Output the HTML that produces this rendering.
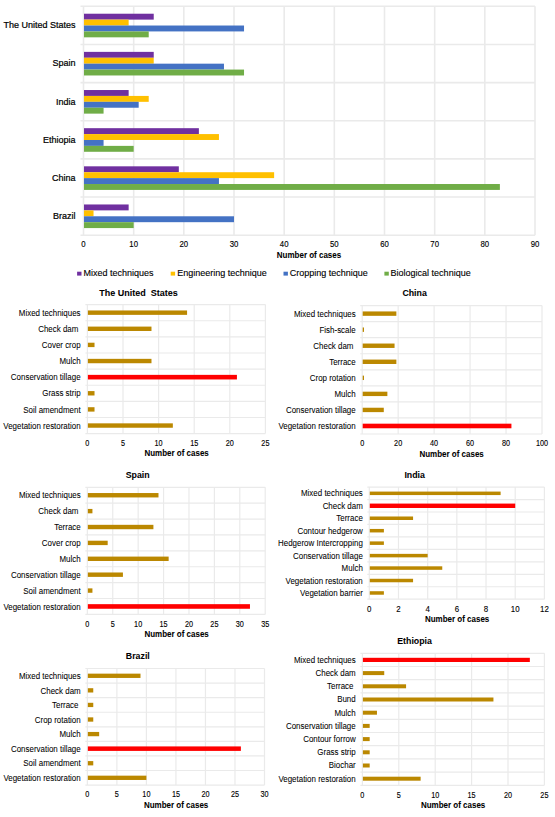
<!DOCTYPE html>
<html><head><meta charset="utf-8"><style>
html,body{margin:0;padding:0;background:#fff;}
svg{display:block;font-family:"Liberation Sans", sans-serif;}
</style></head><body>
<svg width="555" height="817" viewBox="0 0 555 817">
<rect x="0" y="0" width="555" height="817" fill="#fff"/>
<line x1="83.50" y1="6.30" x2="83.50" y2="235.20" stroke="#eaeaea" stroke-width="1.6"/>
<line x1="133.67" y1="6.30" x2="133.67" y2="235.20" stroke="#eaeaea" stroke-width="1.6"/>
<line x1="183.83" y1="6.30" x2="183.83" y2="235.20" stroke="#eaeaea" stroke-width="1.6"/>
<line x1="234.00" y1="6.30" x2="234.00" y2="235.20" stroke="#eaeaea" stroke-width="1.6"/>
<line x1="284.17" y1="6.30" x2="284.17" y2="235.20" stroke="#eaeaea" stroke-width="1.6"/>
<line x1="334.33" y1="6.30" x2="334.33" y2="235.20" stroke="#eaeaea" stroke-width="1.6"/>
<line x1="384.50" y1="6.30" x2="384.50" y2="235.20" stroke="#eaeaea" stroke-width="1.6"/>
<line x1="434.67" y1="6.30" x2="434.67" y2="235.20" stroke="#eaeaea" stroke-width="1.6"/>
<line x1="484.83" y1="6.30" x2="484.83" y2="235.20" stroke="#eaeaea" stroke-width="1.6"/>
<line x1="535.00" y1="6.30" x2="535.00" y2="235.20" stroke="#eaeaea" stroke-width="1.6"/>
<line x1="80.50" y1="6.30" x2="535.00" y2="6.30" stroke="#eaeaea" stroke-width="1.6"/>
<line x1="80.50" y1="44.45" x2="535.00" y2="44.45" stroke="#eaeaea" stroke-width="1.6"/>
<line x1="80.50" y1="82.60" x2="535.00" y2="82.60" stroke="#eaeaea" stroke-width="1.6"/>
<line x1="80.50" y1="120.75" x2="535.00" y2="120.75" stroke="#eaeaea" stroke-width="1.6"/>
<line x1="80.50" y1="158.90" x2="535.00" y2="158.90" stroke="#eaeaea" stroke-width="1.6"/>
<line x1="80.50" y1="197.05" x2="535.00" y2="197.05" stroke="#eaeaea" stroke-width="1.6"/>
<line x1="80.50" y1="235.20" x2="535.00" y2="235.20" stroke="#eaeaea" stroke-width="1.6"/>
<rect x="84.00" y="13.72" width="69.73" height="5.90" fill="#7030a0"/>
<rect x="84.00" y="19.62" width="44.65" height="5.90" fill="#ffc000"/>
<rect x="84.00" y="25.52" width="160.03" height="5.90" fill="#4472c4"/>
<rect x="84.00" y="31.43" width="64.72" height="5.90" fill="#70ad47"/>
<text x="75.60" y="28.26" font-size="9" text-anchor="end" fill="#000" stroke="#000" stroke-width="0.22" xml:space="preserve">The United States</text>
<rect x="84.00" y="51.87" width="69.73" height="5.90" fill="#7030a0"/>
<rect x="84.00" y="57.77" width="69.73" height="5.90" fill="#ffc000"/>
<rect x="84.00" y="63.67" width="139.97" height="5.90" fill="#4472c4"/>
<rect x="84.00" y="69.57" width="160.03" height="5.90" fill="#70ad47"/>
<text x="75.60" y="66.41" font-size="9" text-anchor="end" fill="#000" stroke="#000" stroke-width="0.22" xml:space="preserve">Spain</text>
<rect x="84.00" y="90.03" width="44.65" height="5.90" fill="#7030a0"/>
<rect x="84.00" y="95.93" width="64.72" height="5.90" fill="#ffc000"/>
<rect x="84.00" y="101.83" width="54.68" height="5.90" fill="#4472c4"/>
<rect x="84.00" y="107.73" width="19.57" height="5.90" fill="#70ad47"/>
<text x="75.60" y="104.56" font-size="9" text-anchor="end" fill="#000" stroke="#000" stroke-width="0.22" xml:space="preserve">India</text>
<rect x="84.00" y="128.18" width="114.88" height="5.90" fill="#7030a0"/>
<rect x="84.00" y="134.08" width="134.95" height="5.90" fill="#ffc000"/>
<rect x="84.00" y="139.98" width="19.57" height="5.90" fill="#4472c4"/>
<rect x="84.00" y="145.88" width="49.67" height="5.90" fill="#70ad47"/>
<text x="75.60" y="142.71" font-size="9" text-anchor="end" fill="#000" stroke="#000" stroke-width="0.22" xml:space="preserve">Ethiopia</text>
<rect x="84.00" y="166.32" width="94.82" height="5.90" fill="#7030a0"/>
<rect x="84.00" y="172.22" width="190.13" height="5.90" fill="#ffc000"/>
<rect x="84.00" y="178.12" width="134.95" height="5.90" fill="#4472c4"/>
<rect x="84.00" y="184.02" width="415.88" height="5.90" fill="#70ad47"/>
<text x="75.60" y="180.86" font-size="9" text-anchor="end" fill="#000" stroke="#000" stroke-width="0.22" xml:space="preserve">China</text>
<rect x="84.00" y="204.47" width="44.65" height="5.90" fill="#7030a0"/>
<rect x="84.00" y="210.38" width="9.53" height="5.90" fill="#ffc000"/>
<rect x="84.00" y="216.28" width="150.00" height="5.90" fill="#4472c4"/>
<rect x="84.00" y="222.18" width="49.67" height="5.90" fill="#70ad47"/>
<text x="75.60" y="219.01" font-size="9" text-anchor="end" fill="#000" stroke="#000" stroke-width="0.22" xml:space="preserve">Brazil</text>
<text transform="translate(83.50,246.90) scale(1,1.12)" font-size="7.8" text-anchor="middle" fill="#000" stroke="#000" stroke-width="0.12" xml:space="preserve">0</text>
<text transform="translate(133.67,246.90) scale(1,1.12)" font-size="7.8" text-anchor="middle" fill="#000" stroke="#000" stroke-width="0.12" xml:space="preserve">10</text>
<text transform="translate(183.83,246.90) scale(1,1.12)" font-size="7.8" text-anchor="middle" fill="#000" stroke="#000" stroke-width="0.12" xml:space="preserve">20</text>
<text transform="translate(234.00,246.90) scale(1,1.12)" font-size="7.8" text-anchor="middle" fill="#000" stroke="#000" stroke-width="0.12" xml:space="preserve">30</text>
<text transform="translate(284.17,246.90) scale(1,1.12)" font-size="7.8" text-anchor="middle" fill="#000" stroke="#000" stroke-width="0.12" xml:space="preserve">40</text>
<text transform="translate(334.33,246.90) scale(1,1.12)" font-size="7.8" text-anchor="middle" fill="#000" stroke="#000" stroke-width="0.12" xml:space="preserve">50</text>
<text transform="translate(384.50,246.90) scale(1,1.12)" font-size="7.8" text-anchor="middle" fill="#000" stroke="#000" stroke-width="0.12" xml:space="preserve">60</text>
<text transform="translate(434.67,246.90) scale(1,1.12)" font-size="7.8" text-anchor="middle" fill="#000" stroke="#000" stroke-width="0.12" xml:space="preserve">70</text>
<text transform="translate(484.83,246.90) scale(1,1.12)" font-size="7.8" text-anchor="middle" fill="#000" stroke="#000" stroke-width="0.12" xml:space="preserve">80</text>
<text transform="translate(535.00,246.90) scale(1,1.12)" font-size="7.8" text-anchor="middle" fill="#000" stroke="#000" stroke-width="0.12" xml:space="preserve">90</text>
<text transform="translate(309.00,257.90) scale(1,1.12)" font-size="8" text-anchor="middle" font-weight="bold" fill="#000" stroke="#000" stroke-width="0.05" xml:space="preserve">Number of cases</text>
<rect x="77.10" y="271.70" width="4.40" height="3.90" fill="#7030a0"/>
<text x="83.50" y="276.40" font-size="9" text-anchor="start" fill="#000" stroke="#000" stroke-width="0.12" xml:space="preserve">Mixed techniques</text>
<rect x="170.70" y="271.70" width="4.40" height="3.90" fill="#ffc000"/>
<text x="177.20" y="276.40" font-size="9" text-anchor="start" fill="#000" stroke="#000" stroke-width="0.12" xml:space="preserve">Engineering technique</text>
<rect x="283.50" y="271.70" width="4.40" height="3.90" fill="#4472c4"/>
<text x="289.70" y="276.40" font-size="9" text-anchor="start" fill="#000" stroke="#000" stroke-width="0.12" xml:space="preserve">Cropping technique</text>
<rect x="384.40" y="271.70" width="4.40" height="3.90" fill="#70ad47"/>
<text x="390.60" y="276.40" font-size="9" text-anchor="start" fill="#000" stroke="#000" stroke-width="0.12" xml:space="preserve">Biological technique</text>
<line x1="87.40" y1="304.60" x2="87.40" y2="433.60" stroke="#eaeaea" stroke-width="1.2"/>
<line x1="123.00" y1="304.60" x2="123.00" y2="433.60" stroke="#eaeaea" stroke-width="1.2"/>
<line x1="158.60" y1="304.60" x2="158.60" y2="433.60" stroke="#eaeaea" stroke-width="1.2"/>
<line x1="194.20" y1="304.60" x2="194.20" y2="433.60" stroke="#eaeaea" stroke-width="1.2"/>
<line x1="229.80" y1="304.60" x2="229.80" y2="433.60" stroke="#eaeaea" stroke-width="1.2"/>
<line x1="265.40" y1="304.60" x2="265.40" y2="433.60" stroke="#eaeaea" stroke-width="1.2"/>
<line x1="85.40" y1="304.60" x2="265.40" y2="304.60" stroke="#eaeaea" stroke-width="1.2"/>
<line x1="85.40" y1="320.73" x2="265.40" y2="320.73" stroke="#eaeaea" stroke-width="1.2"/>
<line x1="85.40" y1="336.85" x2="265.40" y2="336.85" stroke="#eaeaea" stroke-width="1.2"/>
<line x1="85.40" y1="352.98" x2="265.40" y2="352.98" stroke="#eaeaea" stroke-width="1.2"/>
<line x1="85.40" y1="369.10" x2="265.40" y2="369.10" stroke="#eaeaea" stroke-width="1.2"/>
<line x1="85.40" y1="385.23" x2="265.40" y2="385.23" stroke="#eaeaea" stroke-width="1.2"/>
<line x1="85.40" y1="401.35" x2="265.40" y2="401.35" stroke="#eaeaea" stroke-width="1.2"/>
<line x1="85.40" y1="417.48" x2="265.40" y2="417.48" stroke="#eaeaea" stroke-width="1.2"/>
<line x1="85.40" y1="433.60" x2="265.40" y2="433.60" stroke="#eaeaea" stroke-width="1.2"/>
<rect x="87.90" y="310.46" width="99.18" height="4.40" fill="#bb8800"/>
<text transform="translate(80.60,315.80) scale(1,1.22)" font-size="7.95" text-anchor="end" fill="#000" stroke="#000" stroke-width="0.05" xml:space="preserve">Mixed techniques</text>
<rect x="87.90" y="326.59" width="63.58" height="4.40" fill="#bb8800"/>
<text transform="translate(80.60,331.92) scale(1,1.22)" font-size="7.95" text-anchor="end" fill="#000" stroke="#000" stroke-width="0.05" xml:space="preserve">Check dam </text>
<rect x="87.90" y="342.71" width="6.62" height="4.40" fill="#bb8800"/>
<text transform="translate(80.60,348.05) scale(1,1.22)" font-size="7.95" text-anchor="end" fill="#000" stroke="#000" stroke-width="0.05" xml:space="preserve">Cover crop</text>
<rect x="87.90" y="358.84" width="63.58" height="4.40" fill="#bb8800"/>
<text transform="translate(80.60,364.17) scale(1,1.22)" font-size="7.95" text-anchor="end" fill="#000" stroke="#000" stroke-width="0.05" xml:space="preserve">Mulch</text>
<rect x="87.90" y="374.86" width="149.02" height="4.60" fill="#ff0000"/>
<text transform="translate(80.60,380.30) scale(1,1.22)" font-size="7.95" text-anchor="end" fill="#000" stroke="#000" stroke-width="0.05" xml:space="preserve">Conservation tillage</text>
<rect x="87.90" y="391.09" width="6.62" height="4.40" fill="#bb8800"/>
<text transform="translate(80.60,396.42) scale(1,1.22)" font-size="7.95" text-anchor="end" fill="#000" stroke="#000" stroke-width="0.05" xml:space="preserve">Grass strip</text>
<rect x="87.90" y="407.21" width="6.62" height="4.40" fill="#bb8800"/>
<text transform="translate(80.60,412.55) scale(1,1.22)" font-size="7.95" text-anchor="end" fill="#000" stroke="#000" stroke-width="0.05" xml:space="preserve">Soil amendment</text>
<rect x="87.90" y="423.34" width="84.94" height="4.40" fill="#bb8800"/>
<text transform="translate(80.60,428.67) scale(1,1.22)" font-size="7.95" text-anchor="end" fill="#000" stroke="#000" stroke-width="0.05" xml:space="preserve">Vegetation restoration</text>
<text transform="translate(87.40,445.90) scale(1,1.22)" font-size="7.3" text-anchor="middle" fill="#000" stroke="#000" stroke-width="0.1" xml:space="preserve">0</text>
<text transform="translate(123.00,445.90) scale(1,1.22)" font-size="7.3" text-anchor="middle" fill="#000" stroke="#000" stroke-width="0.1" xml:space="preserve">5</text>
<text transform="translate(158.60,445.90) scale(1,1.22)" font-size="7.3" text-anchor="middle" fill="#000" stroke="#000" stroke-width="0.1" xml:space="preserve">10</text>
<text transform="translate(194.20,445.90) scale(1,1.22)" font-size="7.3" text-anchor="middle" fill="#000" stroke="#000" stroke-width="0.1" xml:space="preserve">15</text>
<text transform="translate(229.80,445.90) scale(1,1.22)" font-size="7.3" text-anchor="middle" fill="#000" stroke="#000" stroke-width="0.1" xml:space="preserve">20</text>
<text transform="translate(265.40,445.90) scale(1,1.22)" font-size="7.3" text-anchor="middle" fill="#000" stroke="#000" stroke-width="0.1" xml:space="preserve">25</text>
<text transform="translate(176.60,456.10) scale(1,1.12)" font-size="8" text-anchor="middle" font-weight="bold" fill="#000" stroke="#000" stroke-width="0.05" xml:space="preserve">Number of cases</text>
<text x="138.50" y="295.80" font-size="9" text-anchor="middle" font-weight="bold" fill="#000" stroke="#000" stroke-width="0.05" xml:space="preserve">The United  States</text>
<line x1="362.20" y1="305.60" x2="362.20" y2="434.00" stroke="#eaeaea" stroke-width="1.2"/>
<line x1="398.16" y1="305.60" x2="398.16" y2="434.00" stroke="#eaeaea" stroke-width="1.2"/>
<line x1="434.12" y1="305.60" x2="434.12" y2="434.00" stroke="#eaeaea" stroke-width="1.2"/>
<line x1="470.08" y1="305.60" x2="470.08" y2="434.00" stroke="#eaeaea" stroke-width="1.2"/>
<line x1="506.04" y1="305.60" x2="506.04" y2="434.00" stroke="#eaeaea" stroke-width="1.2"/>
<line x1="542.00" y1="305.60" x2="542.00" y2="434.00" stroke="#eaeaea" stroke-width="1.2"/>
<line x1="360.20" y1="305.60" x2="542.00" y2="305.60" stroke="#eaeaea" stroke-width="1.2"/>
<line x1="360.20" y1="321.65" x2="542.00" y2="321.65" stroke="#eaeaea" stroke-width="1.2"/>
<line x1="360.20" y1="337.70" x2="542.00" y2="337.70" stroke="#eaeaea" stroke-width="1.2"/>
<line x1="360.20" y1="353.75" x2="542.00" y2="353.75" stroke="#eaeaea" stroke-width="1.2"/>
<line x1="360.20" y1="369.80" x2="542.00" y2="369.80" stroke="#eaeaea" stroke-width="1.2"/>
<line x1="360.20" y1="385.85" x2="542.00" y2="385.85" stroke="#eaeaea" stroke-width="1.2"/>
<line x1="360.20" y1="401.90" x2="542.00" y2="401.90" stroke="#eaeaea" stroke-width="1.2"/>
<line x1="360.20" y1="417.95" x2="542.00" y2="417.95" stroke="#eaeaea" stroke-width="1.2"/>
<line x1="360.20" y1="434.00" x2="542.00" y2="434.00" stroke="#eaeaea" stroke-width="1.2"/>
<rect x="362.70" y="311.43" width="33.66" height="4.40" fill="#bb8800"/>
<text transform="translate(355.70,316.86) scale(1,1.22)" font-size="7.95" text-anchor="end" fill="#000" stroke="#000" stroke-width="0.05" xml:space="preserve">Mixed techniques</text>
<rect x="362.70" y="327.48" width="1.30" height="4.40" fill="#bb8800"/>
<text transform="translate(355.70,332.91) scale(1,1.22)" font-size="7.95" text-anchor="end" fill="#000" stroke="#000" stroke-width="0.05" xml:space="preserve">Fish-scale</text>
<rect x="362.70" y="343.53" width="31.86" height="4.40" fill="#bb8800"/>
<text transform="translate(355.70,348.96) scale(1,1.22)" font-size="7.95" text-anchor="end" fill="#000" stroke="#000" stroke-width="0.05" xml:space="preserve">Check dam </text>
<rect x="362.70" y="359.58" width="33.66" height="4.40" fill="#bb8800"/>
<text transform="translate(355.70,365.01) scale(1,1.22)" font-size="7.95" text-anchor="end" fill="#000" stroke="#000" stroke-width="0.05" xml:space="preserve">Terrace</text>
<rect x="362.70" y="375.63" width="1.30" height="4.40" fill="#bb8800"/>
<text transform="translate(355.70,381.06) scale(1,1.22)" font-size="7.95" text-anchor="end" fill="#000" stroke="#000" stroke-width="0.05" xml:space="preserve">Crop rotation</text>
<rect x="362.70" y="391.68" width="24.67" height="4.40" fill="#bb8800"/>
<text transform="translate(355.70,397.11) scale(1,1.22)" font-size="7.95" text-anchor="end" fill="#000" stroke="#000" stroke-width="0.05" xml:space="preserve">Mulch</text>
<rect x="362.70" y="407.73" width="21.08" height="4.40" fill="#bb8800"/>
<text transform="translate(355.70,413.16) scale(1,1.22)" font-size="7.95" text-anchor="end" fill="#000" stroke="#000" stroke-width="0.05" xml:space="preserve">Conservation tillage</text>
<rect x="362.70" y="423.68" width="148.73" height="4.60" fill="#ff0000"/>
<text transform="translate(355.70,429.21) scale(1,1.22)" font-size="7.95" text-anchor="end" fill="#000" stroke="#000" stroke-width="0.05" xml:space="preserve">Vegetation restoration</text>
<text transform="translate(362.20,446.20) scale(1,1.22)" font-size="7.3" text-anchor="middle" fill="#000" stroke="#000" stroke-width="0.1" xml:space="preserve">0</text>
<text transform="translate(398.16,446.20) scale(1,1.22)" font-size="7.3" text-anchor="middle" fill="#000" stroke="#000" stroke-width="0.1" xml:space="preserve">20</text>
<text transform="translate(434.12,446.20) scale(1,1.22)" font-size="7.3" text-anchor="middle" fill="#000" stroke="#000" stroke-width="0.1" xml:space="preserve">40</text>
<text transform="translate(470.08,446.20) scale(1,1.22)" font-size="7.3" text-anchor="middle" fill="#000" stroke="#000" stroke-width="0.1" xml:space="preserve">60</text>
<text transform="translate(506.04,446.20) scale(1,1.22)" font-size="7.3" text-anchor="middle" fill="#000" stroke="#000" stroke-width="0.1" xml:space="preserve">80</text>
<text transform="translate(542.00,446.20) scale(1,1.22)" font-size="7.3" text-anchor="middle" fill="#000" stroke="#000" stroke-width="0.1" xml:space="preserve">100</text>
<text transform="translate(451.60,456.60) scale(1,1.12)" font-size="8" text-anchor="middle" font-weight="bold" fill="#000" stroke="#000" stroke-width="0.05" xml:space="preserve">Number of cases</text>
<text x="414.60" y="296.00" font-size="8.8" text-anchor="middle" font-weight="bold" fill="#000" stroke="#000" stroke-width="0.05" xml:space="preserve">China</text>
<line x1="87.35" y1="487.30" x2="87.35" y2="614.40" stroke="#eaeaea" stroke-width="1.2"/>
<line x1="112.76" y1="487.30" x2="112.76" y2="614.40" stroke="#eaeaea" stroke-width="1.2"/>
<line x1="138.16" y1="487.30" x2="138.16" y2="614.40" stroke="#eaeaea" stroke-width="1.2"/>
<line x1="163.57" y1="487.30" x2="163.57" y2="614.40" stroke="#eaeaea" stroke-width="1.2"/>
<line x1="188.98" y1="487.30" x2="188.98" y2="614.40" stroke="#eaeaea" stroke-width="1.2"/>
<line x1="214.39" y1="487.30" x2="214.39" y2="614.40" stroke="#eaeaea" stroke-width="1.2"/>
<line x1="239.79" y1="487.30" x2="239.79" y2="614.40" stroke="#eaeaea" stroke-width="1.2"/>
<line x1="265.20" y1="487.30" x2="265.20" y2="614.40" stroke="#eaeaea" stroke-width="1.2"/>
<line x1="85.35" y1="487.30" x2="265.20" y2="487.30" stroke="#eaeaea" stroke-width="1.2"/>
<line x1="85.35" y1="503.19" x2="265.20" y2="503.19" stroke="#eaeaea" stroke-width="1.2"/>
<line x1="85.35" y1="519.08" x2="265.20" y2="519.08" stroke="#eaeaea" stroke-width="1.2"/>
<line x1="85.35" y1="534.96" x2="265.20" y2="534.96" stroke="#eaeaea" stroke-width="1.2"/>
<line x1="85.35" y1="550.85" x2="265.20" y2="550.85" stroke="#eaeaea" stroke-width="1.2"/>
<line x1="85.35" y1="566.74" x2="265.20" y2="566.74" stroke="#eaeaea" stroke-width="1.2"/>
<line x1="85.35" y1="582.62" x2="265.20" y2="582.62" stroke="#eaeaea" stroke-width="1.2"/>
<line x1="85.35" y1="598.51" x2="265.20" y2="598.51" stroke="#eaeaea" stroke-width="1.2"/>
<line x1="85.35" y1="614.40" x2="265.20" y2="614.40" stroke="#eaeaea" stroke-width="1.2"/>
<rect x="87.85" y="493.04" width="70.64" height="4.40" fill="#bb8800"/>
<text transform="translate(80.70,498.38) scale(1,1.22)" font-size="7.95" text-anchor="end" fill="#000" stroke="#000" stroke-width="0.05" xml:space="preserve">Mixed techniques</text>
<rect x="87.85" y="508.93" width="4.58" height="4.40" fill="#bb8800"/>
<text transform="translate(80.70,514.27) scale(1,1.22)" font-size="7.95" text-anchor="end" fill="#000" stroke="#000" stroke-width="0.05" xml:space="preserve">Check dam </text>
<rect x="87.85" y="524.82" width="65.56" height="4.40" fill="#bb8800"/>
<text transform="translate(80.70,530.15) scale(1,1.22)" font-size="7.95" text-anchor="end" fill="#000" stroke="#000" stroke-width="0.05" xml:space="preserve">Terrace</text>
<rect x="87.85" y="540.71" width="19.83" height="4.40" fill="#bb8800"/>
<text transform="translate(80.70,546.04) scale(1,1.22)" font-size="7.95" text-anchor="end" fill="#000" stroke="#000" stroke-width="0.05" xml:space="preserve">Cover crop</text>
<rect x="87.85" y="556.59" width="80.80" height="4.40" fill="#bb8800"/>
<text transform="translate(80.70,561.93) scale(1,1.22)" font-size="7.95" text-anchor="end" fill="#000" stroke="#000" stroke-width="0.05" xml:space="preserve">Mulch</text>
<rect x="87.85" y="572.48" width="35.07" height="4.40" fill="#bb8800"/>
<text transform="translate(80.70,577.82) scale(1,1.22)" font-size="7.95" text-anchor="end" fill="#000" stroke="#000" stroke-width="0.05" xml:space="preserve">Conservation tillage</text>
<rect x="87.85" y="588.37" width="4.58" height="4.40" fill="#bb8800"/>
<text transform="translate(80.70,593.70) scale(1,1.22)" font-size="7.95" text-anchor="end" fill="#000" stroke="#000" stroke-width="0.05" xml:space="preserve">Soil amendment</text>
<rect x="87.85" y="604.16" width="162.11" height="4.60" fill="#ff0000"/>
<text transform="translate(80.70,609.59) scale(1,1.22)" font-size="7.95" text-anchor="end" fill="#000" stroke="#000" stroke-width="0.05" xml:space="preserve">Vegetation restoration</text>
<text transform="translate(87.35,627.30) scale(1,1.22)" font-size="7.3" text-anchor="middle" fill="#000" stroke="#000" stroke-width="0.1" xml:space="preserve">0</text>
<text transform="translate(112.76,627.30) scale(1,1.22)" font-size="7.3" text-anchor="middle" fill="#000" stroke="#000" stroke-width="0.1" xml:space="preserve">5</text>
<text transform="translate(138.16,627.30) scale(1,1.22)" font-size="7.3" text-anchor="middle" fill="#000" stroke="#000" stroke-width="0.1" xml:space="preserve">10</text>
<text transform="translate(163.57,627.30) scale(1,1.22)" font-size="7.3" text-anchor="middle" fill="#000" stroke="#000" stroke-width="0.1" xml:space="preserve">15</text>
<text transform="translate(188.98,627.30) scale(1,1.22)" font-size="7.3" text-anchor="middle" fill="#000" stroke="#000" stroke-width="0.1" xml:space="preserve">20</text>
<text transform="translate(214.39,627.30) scale(1,1.22)" font-size="7.3" text-anchor="middle" fill="#000" stroke="#000" stroke-width="0.1" xml:space="preserve">25</text>
<text transform="translate(239.79,627.30) scale(1,1.22)" font-size="7.3" text-anchor="middle" fill="#000" stroke="#000" stroke-width="0.1" xml:space="preserve">30</text>
<text transform="translate(265.20,627.30) scale(1,1.22)" font-size="7.3" text-anchor="middle" fill="#000" stroke="#000" stroke-width="0.1" xml:space="preserve">35</text>
<text transform="translate(176.60,637.40) scale(1,1.12)" font-size="8" text-anchor="middle" font-weight="bold" fill="#000" stroke="#000" stroke-width="0.05" xml:space="preserve">Number of cases</text>
<text x="137.70" y="478.00" font-size="8.8" text-anchor="middle" font-weight="bold" fill="#000" stroke="#000" stroke-width="0.05" xml:space="preserve">Spain</text>
<line x1="369.30" y1="487.10" x2="369.30" y2="599.20" stroke="#eaeaea" stroke-width="1.2"/>
<line x1="398.48" y1="487.10" x2="398.48" y2="599.20" stroke="#eaeaea" stroke-width="1.2"/>
<line x1="427.67" y1="487.10" x2="427.67" y2="599.20" stroke="#eaeaea" stroke-width="1.2"/>
<line x1="456.85" y1="487.10" x2="456.85" y2="599.20" stroke="#eaeaea" stroke-width="1.2"/>
<line x1="486.03" y1="487.10" x2="486.03" y2="599.20" stroke="#eaeaea" stroke-width="1.2"/>
<line x1="515.22" y1="487.10" x2="515.22" y2="599.20" stroke="#eaeaea" stroke-width="1.2"/>
<line x1="544.40" y1="487.10" x2="544.40" y2="599.20" stroke="#eaeaea" stroke-width="1.2"/>
<line x1="367.30" y1="487.10" x2="544.40" y2="487.10" stroke="#eaeaea" stroke-width="1.2"/>
<line x1="367.30" y1="499.56" x2="544.40" y2="499.56" stroke="#eaeaea" stroke-width="1.2"/>
<line x1="367.30" y1="512.01" x2="544.40" y2="512.01" stroke="#eaeaea" stroke-width="1.2"/>
<line x1="367.30" y1="524.47" x2="544.40" y2="524.47" stroke="#eaeaea" stroke-width="1.2"/>
<line x1="367.30" y1="536.92" x2="544.40" y2="536.92" stroke="#eaeaea" stroke-width="1.2"/>
<line x1="367.30" y1="549.38" x2="544.40" y2="549.38" stroke="#eaeaea" stroke-width="1.2"/>
<line x1="367.30" y1="561.83" x2="544.40" y2="561.83" stroke="#eaeaea" stroke-width="1.2"/>
<line x1="367.30" y1="574.29" x2="544.40" y2="574.29" stroke="#eaeaea" stroke-width="1.2"/>
<line x1="367.30" y1="586.74" x2="544.40" y2="586.74" stroke="#eaeaea" stroke-width="1.2"/>
<line x1="367.30" y1="599.20" x2="544.40" y2="599.20" stroke="#eaeaea" stroke-width="1.2"/>
<rect x="369.80" y="491.58" width="130.82" height="3.50" fill="#bb8800"/>
<text transform="translate(362.80,496.46) scale(1,1.22)" font-size="7.95" text-anchor="end" fill="#000" stroke="#000" stroke-width="0.05" xml:space="preserve">Mixed techniques</text>
<rect x="369.80" y="503.58" width="145.42" height="4.40" fill="#ff0000"/>
<text transform="translate(362.80,508.92) scale(1,1.22)" font-size="7.95" text-anchor="end" fill="#000" stroke="#000" stroke-width="0.05" xml:space="preserve">Check dam</text>
<rect x="369.80" y="516.49" width="43.27" height="3.50" fill="#bb8800"/>
<text transform="translate(362.80,521.37) scale(1,1.22)" font-size="7.95" text-anchor="end" fill="#000" stroke="#000" stroke-width="0.05" xml:space="preserve">Terrace</text>
<rect x="369.80" y="528.94" width="14.09" height="3.50" fill="#bb8800"/>
<text transform="translate(362.80,533.83) scale(1,1.22)" font-size="7.95" text-anchor="end" fill="#000" stroke="#000" stroke-width="0.05" xml:space="preserve">Contour hedgerow</text>
<rect x="369.80" y="541.40" width="14.09" height="3.50" fill="#bb8800"/>
<text transform="translate(362.80,546.29) scale(1,1.22)" font-size="7.95" text-anchor="end" fill="#000" stroke="#000" stroke-width="0.05" xml:space="preserve">Hedgerow Intercropping</text>
<rect x="369.80" y="553.86" width="57.87" height="3.50" fill="#bb8800"/>
<text transform="translate(362.80,558.74) scale(1,1.22)" font-size="7.95" text-anchor="end" fill="#000" stroke="#000" stroke-width="0.05" xml:space="preserve">Conservation tillage</text>
<rect x="369.80" y="566.31" width="72.46" height="3.50" fill="#bb8800"/>
<text transform="translate(362.80,571.20) scale(1,1.22)" font-size="7.95" text-anchor="end" fill="#000" stroke="#000" stroke-width="0.05" xml:space="preserve">Mulch</text>
<rect x="369.80" y="578.77" width="43.27" height="3.50" fill="#bb8800"/>
<text transform="translate(362.80,583.65) scale(1,1.22)" font-size="7.95" text-anchor="end" fill="#000" stroke="#000" stroke-width="0.05" xml:space="preserve">Vegetation restoration</text>
<rect x="369.80" y="591.22" width="14.09" height="3.50" fill="#bb8800"/>
<text transform="translate(362.80,596.11) scale(1,1.22)" font-size="7.95" text-anchor="end" fill="#000" stroke="#000" stroke-width="0.05" xml:space="preserve">Vegetation barrier</text>
<text transform="translate(369.30,611.50) scale(1,1.22)" font-size="7.9" text-anchor="middle" fill="#000" stroke="#000" stroke-width="0.1" xml:space="preserve">0</text>
<text transform="translate(398.48,611.50) scale(1,1.22)" font-size="7.9" text-anchor="middle" fill="#000" stroke="#000" stroke-width="0.1" xml:space="preserve">2</text>
<text transform="translate(427.67,611.50) scale(1,1.22)" font-size="7.9" text-anchor="middle" fill="#000" stroke="#000" stroke-width="0.1" xml:space="preserve">4</text>
<text transform="translate(456.85,611.50) scale(1,1.22)" font-size="7.9" text-anchor="middle" fill="#000" stroke="#000" stroke-width="0.1" xml:space="preserve">6</text>
<text transform="translate(486.03,611.50) scale(1,1.22)" font-size="7.9" text-anchor="middle" fill="#000" stroke="#000" stroke-width="0.1" xml:space="preserve">8</text>
<text transform="translate(515.22,611.50) scale(1,1.22)" font-size="7.9" text-anchor="middle" fill="#000" stroke="#000" stroke-width="0.1" xml:space="preserve">10</text>
<text transform="translate(544.40,611.50) scale(1,1.22)" font-size="7.9" text-anchor="middle" fill="#000" stroke="#000" stroke-width="0.1" xml:space="preserve">12</text>
<text transform="translate(457.10,622.20) scale(1,1.12)" font-size="8" text-anchor="middle" font-weight="bold" fill="#000" stroke="#000" stroke-width="0.05" xml:space="preserve">Number of cases</text>
<text x="414.70" y="478.20" font-size="8.8" text-anchor="middle" font-weight="bold" fill="#000" stroke="#000" stroke-width="0.05" xml:space="preserve">India</text>
<line x1="87.35" y1="668.50" x2="87.35" y2="785.10" stroke="#eaeaea" stroke-width="1.2"/>
<line x1="116.88" y1="668.50" x2="116.88" y2="785.10" stroke="#eaeaea" stroke-width="1.2"/>
<line x1="146.40" y1="668.50" x2="146.40" y2="785.10" stroke="#eaeaea" stroke-width="1.2"/>
<line x1="175.93" y1="668.50" x2="175.93" y2="785.10" stroke="#eaeaea" stroke-width="1.2"/>
<line x1="205.45" y1="668.50" x2="205.45" y2="785.10" stroke="#eaeaea" stroke-width="1.2"/>
<line x1="234.97" y1="668.50" x2="234.97" y2="785.10" stroke="#eaeaea" stroke-width="1.2"/>
<line x1="264.50" y1="668.50" x2="264.50" y2="785.10" stroke="#eaeaea" stroke-width="1.2"/>
<line x1="85.35" y1="668.50" x2="264.50" y2="668.50" stroke="#eaeaea" stroke-width="1.2"/>
<line x1="85.35" y1="683.08" x2="264.50" y2="683.08" stroke="#eaeaea" stroke-width="1.2"/>
<line x1="85.35" y1="697.65" x2="264.50" y2="697.65" stroke="#eaeaea" stroke-width="1.2"/>
<line x1="85.35" y1="712.23" x2="264.50" y2="712.23" stroke="#eaeaea" stroke-width="1.2"/>
<line x1="85.35" y1="726.80" x2="264.50" y2="726.80" stroke="#eaeaea" stroke-width="1.2"/>
<line x1="85.35" y1="741.38" x2="264.50" y2="741.38" stroke="#eaeaea" stroke-width="1.2"/>
<line x1="85.35" y1="755.95" x2="264.50" y2="755.95" stroke="#eaeaea" stroke-width="1.2"/>
<line x1="85.35" y1="770.52" x2="264.50" y2="770.52" stroke="#eaeaea" stroke-width="1.2"/>
<line x1="85.35" y1="785.10" x2="264.50" y2="785.10" stroke="#eaeaea" stroke-width="1.2"/>
<rect x="87.85" y="673.64" width="52.65" height="4.30" fill="#bb8800"/>
<text transform="translate(80.70,679.02) scale(1,1.22)" font-size="7.95" text-anchor="end" fill="#000" stroke="#000" stroke-width="0.05" xml:space="preserve">Mixed techniques</text>
<rect x="87.85" y="688.21" width="5.41" height="4.30" fill="#bb8800"/>
<text transform="translate(80.70,693.60) scale(1,1.22)" font-size="7.95" text-anchor="end" fill="#000" stroke="#000" stroke-width="0.05" xml:space="preserve">Check dam</text>
<rect x="87.85" y="702.79" width="5.41" height="4.30" fill="#bb8800"/>
<text transform="translate(80.70,708.17) scale(1,1.22)" font-size="7.95" text-anchor="end" fill="#000" stroke="#000" stroke-width="0.05" xml:space="preserve">Terrace </text>
<rect x="87.85" y="717.36" width="5.41" height="4.30" fill="#bb8800"/>
<text transform="translate(80.70,722.75) scale(1,1.22)" font-size="7.95" text-anchor="end" fill="#000" stroke="#000" stroke-width="0.05" xml:space="preserve">Crop rotation</text>
<rect x="87.85" y="731.94" width="11.31" height="4.30" fill="#bb8800"/>
<text transform="translate(80.70,737.32) scale(1,1.22)" font-size="7.95" text-anchor="end" fill="#000" stroke="#000" stroke-width="0.05" xml:space="preserve">Mulch</text>
<rect x="87.85" y="746.41" width="153.03" height="4.50" fill="#ff0000"/>
<text transform="translate(80.70,751.90) scale(1,1.22)" font-size="7.95" text-anchor="end" fill="#000" stroke="#000" stroke-width="0.05" xml:space="preserve">Conservation tillage</text>
<rect x="87.85" y="761.09" width="5.41" height="4.30" fill="#bb8800"/>
<text transform="translate(80.70,766.47) scale(1,1.22)" font-size="7.95" text-anchor="end" fill="#000" stroke="#000" stroke-width="0.05" xml:space="preserve">Soil amendment</text>
<rect x="87.85" y="775.66" width="58.55" height="4.30" fill="#bb8800"/>
<text transform="translate(80.70,781.05) scale(1,1.22)" font-size="7.95" text-anchor="end" fill="#000" stroke="#000" stroke-width="0.05" xml:space="preserve">Vegetation restoration</text>
<text transform="translate(87.35,797.20) scale(1,1.22)" font-size="7.3" text-anchor="middle" fill="#000" stroke="#000" stroke-width="0.1" xml:space="preserve">0</text>
<text transform="translate(116.88,797.20) scale(1,1.22)" font-size="7.3" text-anchor="middle" fill="#000" stroke="#000" stroke-width="0.1" xml:space="preserve">5</text>
<text transform="translate(146.40,797.20) scale(1,1.22)" font-size="7.3" text-anchor="middle" fill="#000" stroke="#000" stroke-width="0.1" xml:space="preserve">10</text>
<text transform="translate(175.93,797.20) scale(1,1.22)" font-size="7.3" text-anchor="middle" fill="#000" stroke="#000" stroke-width="0.1" xml:space="preserve">15</text>
<text transform="translate(205.45,797.20) scale(1,1.22)" font-size="7.3" text-anchor="middle" fill="#000" stroke="#000" stroke-width="0.1" xml:space="preserve">20</text>
<text transform="translate(234.97,797.20) scale(1,1.22)" font-size="7.3" text-anchor="middle" fill="#000" stroke="#000" stroke-width="0.1" xml:space="preserve">25</text>
<text transform="translate(264.50,797.20) scale(1,1.22)" font-size="7.3" text-anchor="middle" fill="#000" stroke="#000" stroke-width="0.1" xml:space="preserve">30</text>
<text transform="translate(176.10,808.00) scale(1,1.12)" font-size="8" text-anchor="middle" font-weight="bold" fill="#000" stroke="#000" stroke-width="0.05" xml:space="preserve">Number of cases</text>
<text x="137.80" y="659.40" font-size="8.8" text-anchor="middle" font-weight="bold" fill="#000" stroke="#000" stroke-width="0.05" xml:space="preserve">Brazil</text>
<line x1="362.40" y1="653.30" x2="362.40" y2="785.30" stroke="#eaeaea" stroke-width="1.2"/>
<line x1="398.80" y1="653.30" x2="398.80" y2="785.30" stroke="#eaeaea" stroke-width="1.2"/>
<line x1="435.20" y1="653.30" x2="435.20" y2="785.30" stroke="#eaeaea" stroke-width="1.2"/>
<line x1="471.60" y1="653.30" x2="471.60" y2="785.30" stroke="#eaeaea" stroke-width="1.2"/>
<line x1="508.00" y1="653.30" x2="508.00" y2="785.30" stroke="#eaeaea" stroke-width="1.2"/>
<line x1="544.40" y1="653.30" x2="544.40" y2="785.30" stroke="#eaeaea" stroke-width="1.2"/>
<line x1="360.40" y1="653.30" x2="544.40" y2="653.30" stroke="#eaeaea" stroke-width="1.2"/>
<line x1="360.40" y1="666.50" x2="544.40" y2="666.50" stroke="#eaeaea" stroke-width="1.2"/>
<line x1="360.40" y1="679.70" x2="544.40" y2="679.70" stroke="#eaeaea" stroke-width="1.2"/>
<line x1="360.40" y1="692.90" x2="544.40" y2="692.90" stroke="#eaeaea" stroke-width="1.2"/>
<line x1="360.40" y1="706.10" x2="544.40" y2="706.10" stroke="#eaeaea" stroke-width="1.2"/>
<line x1="360.40" y1="719.30" x2="544.40" y2="719.30" stroke="#eaeaea" stroke-width="1.2"/>
<line x1="360.40" y1="732.50" x2="544.40" y2="732.50" stroke="#eaeaea" stroke-width="1.2"/>
<line x1="360.40" y1="745.70" x2="544.40" y2="745.70" stroke="#eaeaea" stroke-width="1.2"/>
<line x1="360.40" y1="758.90" x2="544.40" y2="758.90" stroke="#eaeaea" stroke-width="1.2"/>
<line x1="360.40" y1="772.10" x2="544.40" y2="772.10" stroke="#eaeaea" stroke-width="1.2"/>
<line x1="360.40" y1="785.30" x2="544.40" y2="785.30" stroke="#eaeaea" stroke-width="1.2"/>
<rect x="362.90" y="657.80" width="166.94" height="4.20" fill="#ff0000"/>
<text transform="translate(355.70,662.84) scale(1,1.22)" font-size="7.95" text-anchor="end" fill="#000" stroke="#000" stroke-width="0.05" xml:space="preserve">Mixed techniques</text>
<rect x="362.90" y="671.10" width="21.34" height="4.00" fill="#bb8800"/>
<text transform="translate(355.70,676.04) scale(1,1.22)" font-size="7.95" text-anchor="end" fill="#000" stroke="#000" stroke-width="0.05" xml:space="preserve">Check dam</text>
<rect x="362.90" y="684.30" width="43.18" height="4.00" fill="#bb8800"/>
<text transform="translate(355.70,689.24) scale(1,1.22)" font-size="7.95" text-anchor="end" fill="#000" stroke="#000" stroke-width="0.05" xml:space="preserve">Terrace </text>
<rect x="362.90" y="697.50" width="130.54" height="4.00" fill="#bb8800"/>
<text transform="translate(355.70,702.44) scale(1,1.22)" font-size="7.95" text-anchor="end" fill="#000" stroke="#000" stroke-width="0.05" xml:space="preserve">Bund</text>
<rect x="362.90" y="710.70" width="14.06" height="4.00" fill="#bb8800"/>
<text transform="translate(355.70,715.64) scale(1,1.22)" font-size="7.95" text-anchor="end" fill="#000" stroke="#000" stroke-width="0.05" xml:space="preserve">Mulch</text>
<rect x="362.90" y="723.90" width="6.78" height="4.00" fill="#bb8800"/>
<text transform="translate(355.70,728.84) scale(1,1.22)" font-size="7.95" text-anchor="end" fill="#000" stroke="#000" stroke-width="0.05" xml:space="preserve">Conservation tillage</text>
<rect x="362.90" y="737.10" width="6.78" height="4.00" fill="#bb8800"/>
<text transform="translate(355.70,742.04) scale(1,1.22)" font-size="7.95" text-anchor="end" fill="#000" stroke="#000" stroke-width="0.05" xml:space="preserve">Contour forrow</text>
<rect x="362.90" y="750.30" width="6.78" height="4.00" fill="#bb8800"/>
<text transform="translate(355.70,755.24) scale(1,1.22)" font-size="7.95" text-anchor="end" fill="#000" stroke="#000" stroke-width="0.05" xml:space="preserve">Grass strip</text>
<rect x="362.90" y="763.50" width="6.78" height="4.00" fill="#bb8800"/>
<text transform="translate(355.70,768.44) scale(1,1.22)" font-size="7.95" text-anchor="end" fill="#000" stroke="#000" stroke-width="0.05" xml:space="preserve">Biochar</text>
<rect x="362.90" y="776.70" width="57.74" height="4.00" fill="#bb8800"/>
<text transform="translate(355.70,781.64) scale(1,1.22)" font-size="7.95" text-anchor="end" fill="#000" stroke="#000" stroke-width="0.05" xml:space="preserve">Vegetation restoration</text>
<text transform="translate(362.40,797.80) scale(1,1.22)" font-size="7.3" text-anchor="middle" fill="#000" stroke="#000" stroke-width="0.1" xml:space="preserve">0</text>
<text transform="translate(398.80,797.80) scale(1,1.22)" font-size="7.3" text-anchor="middle" fill="#000" stroke="#000" stroke-width="0.1" xml:space="preserve">5</text>
<text transform="translate(435.20,797.80) scale(1,1.22)" font-size="7.3" text-anchor="middle" fill="#000" stroke="#000" stroke-width="0.1" xml:space="preserve">10</text>
<text transform="translate(471.60,797.80) scale(1,1.22)" font-size="7.3" text-anchor="middle" fill="#000" stroke="#000" stroke-width="0.1" xml:space="preserve">15</text>
<text transform="translate(508.00,797.80) scale(1,1.22)" font-size="7.3" text-anchor="middle" fill="#000" stroke="#000" stroke-width="0.1" xml:space="preserve">20</text>
<text transform="translate(544.40,797.80) scale(1,1.22)" font-size="7.3" text-anchor="middle" fill="#000" stroke="#000" stroke-width="0.1" xml:space="preserve">25</text>
<text transform="translate(453.10,808.00) scale(1,1.12)" font-size="8" text-anchor="middle" font-weight="bold" fill="#000" stroke="#000" stroke-width="0.05" xml:space="preserve">Number of cases</text>
<text x="414.60" y="643.60" font-size="8.8" text-anchor="middle" font-weight="bold" fill="#000" stroke="#000" stroke-width="0.05" xml:space="preserve">Ethiopia</text>
</svg></body></html>
